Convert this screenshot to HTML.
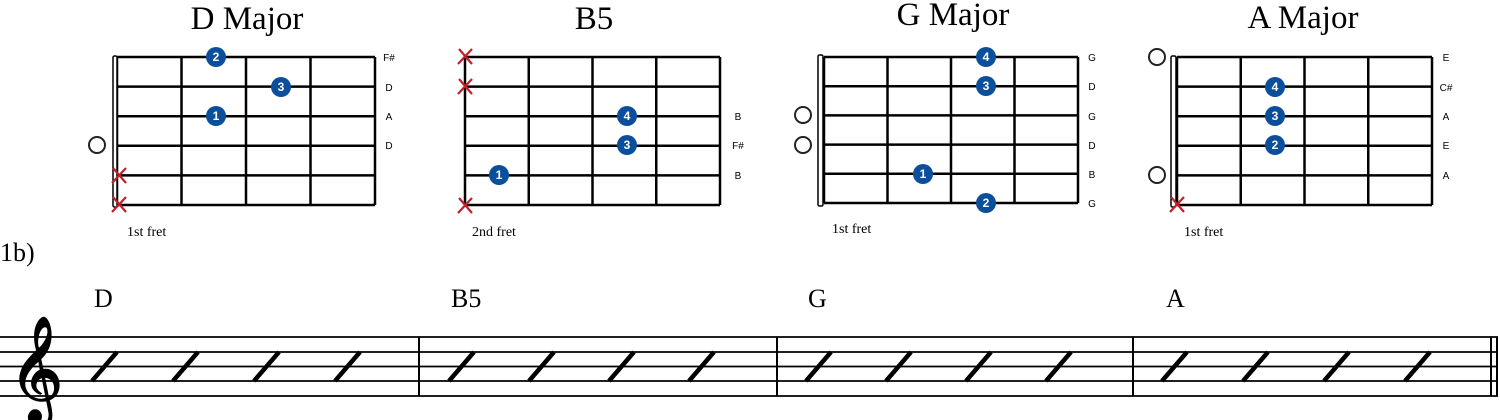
<!DOCTYPE html>
<html><head><meta charset="utf-8"><style>
html,body{margin:0;padding:0;background:#fff;width:1500px;height:420px;overflow:hidden}
svg{display:block}
.t{font-family:"Liberation Serif",serif;fill:#000}
.n{font-family:"Liberation Sans",sans-serif;font-weight:bold;font-size:12px;fill:#fff;text-anchor:middle}
.s{font-family:"Liberation Sans",sans-serif;font-size:10px;fill:#000;text-anchor:middle}
</style></head><body>
<svg width="1500" height="420" viewBox="0 0 1500 420" xmlns="http://www.w3.org/2000/svg">
<g class="t" text-anchor="middle" font-size="33">
<text x="247" y="29">D Major</text>
<text x="594" y="29">B5</text>
<text x="953" y="25">G Major</text>
<text x="1303" y="28">A Major</text>
</g>
<g stroke="#000" stroke-width="2.5" fill="none">
<path d="M117 57H375M117 86.6H375M117 116.2H375M117 145.8H375M117 175.4H375M117 205H375M117 57V205M181.5 57V205M246 57V205M310.5 57V205M375 57V205"/>
<path d="M465 57H720M465 86.6H720M465 116.2H720M465 145.8H720M465 175.4H720M465 205H720M465 57V205M528.75 57V205M592.5 57V205M656.25 57V205M720 57V205"/>
<path d="M824 57H1078M824 86.2H1078M824 115.4H1078M824 144.6H1078M824 173.8H1078M824 203H1078M824 57V203M887.5 57V203M951 57V203M1014.5 57V203M1078 57V203"/>
<path d="M1177 57H1432M1177 86.6H1432M1177 116.2H1432M1177 145.8H1432M1177 175.4H1432M1177 205H1432M1177 57V205M1240.75 57V205M1304.5 57V205M1368.25 57V205M1432 57V205"/>
</g>
<g fill="#fff" stroke="#000" stroke-width="1.5">
<rect x="113" y="56" width="4" height="151" rx="1.5"/>
<rect x="818" y="55" width="5" height="151" rx="1.5"/>
<rect x="1171" y="56" width="5" height="151" rx="1.5"/>
</g>
<g fill="none" stroke="#222" stroke-width="2">
<circle cx="97" cy="145" r="8"/>
<circle cx="803" cy="115" r="8"/>
<circle cx="803" cy="145" r="8"/>
<circle cx="1157" cy="57" r="8"/>
<circle cx="1157" cy="175" r="8"/>
</g>
<g stroke="#c0202a" stroke-width="2.2" fill="none">
<path d="M113 168L126 183M126 168L112 183"/>
<path d="M113 197L126 212M126 197L112 212"/>
<path d="M459 49L472 64M472 49L458 64"/>
<path d="M459 79L472 94M472 79L458 94"/>
<path d="M459 198L472 213M472 198L458 213"/>
<path d="M1171 197L1184 212M1184 197L1170 212"/>
</g>
<g fill="#0b4f9c">
<circle cx="216" cy="57" r="10"/><circle cx="281" cy="87" r="10"/><circle cx="216" cy="116" r="10"/>
<circle cx="627" cy="116" r="10"/><circle cx="627" cy="145" r="10"/><circle cx="499" cy="175" r="10"/>
<circle cx="986" cy="57" r="10"/><circle cx="986" cy="86" r="10"/><circle cx="923" cy="174" r="10"/><circle cx="986" cy="203" r="10"/>
<circle cx="1275" cy="87" r="10"/><circle cx="1275" cy="116" r="10"/><circle cx="1275" cy="145" r="10"/>
</g>
<g class="n">
<text x="216" y="61">2</text><text x="281" y="91">3</text><text x="216" y="120">1</text>
<text x="627" y="120">4</text><text x="627" y="149">3</text><text x="499" y="179">1</text>
<text x="986" y="61">4</text><text x="986" y="90">3</text><text x="923" y="178">1</text><text x="986" y="207">2</text>
<text x="1275" y="91">4</text><text x="1275" y="120">3</text><text x="1275" y="149">2</text>
</g>
<g class="s">
<text x="389" y="61">F#</text><text x="389" y="91">D</text><text x="389" y="120">A</text><text x="389" y="149">D</text>
<text x="738" y="120">B</text><text x="738" y="149">F#</text><text x="738" y="179">B</text>
<text x="1092" y="61">G</text><text x="1092" y="90">D</text><text x="1092" y="120">G</text><text x="1092" y="149">D</text><text x="1092" y="178">B</text><text x="1092" y="207">G</text>
<text x="1446" y="61">E</text><text x="1446" y="91">C#</text><text x="1446" y="120">A</text><text x="1446" y="149">E</text><text x="1446" y="179">A</text>
</g>
<g class="t" font-size="14">
<text x="127" y="236">1st fret</text>
<text x="472" y="236">2nd fret</text>
<text x="832" y="233">1st fret</text>
<text x="1184" y="236">1st fret</text>
</g>
<text class="t" x="0" y="261" font-size="26">1b)</text>
<g class="t" font-size="26">
<text x="94" y="307">D</text><text x="451" y="307">B5</text><text x="808" y="307">G</text><text x="1166" y="307">A</text>
</g>
<g stroke="#000" stroke-width="1.8">
<path d="M0 337H1498M0 352H1498M0 366.5H1498M0 381H1498M0 396H1498"/>
<path d="M419 337V396M777 337V396M1133 337V396M1491 337V396M1497 337V396" stroke-width="2"/>
</g>
<g stroke="#000" stroke-width="4.5" stroke-linecap="butt">
<path d="M92 381L117 352M173 381L198 352M254 381L279 352M335 381L360 352"/>
<path d="M449 381L474 352M529 381L554 352M609 381L634 352M689 381L714 352"/>
<path d="M806 381L831 352M886 381L911 352M966 381L991 352M1046 381L1071 352"/>
<path d="M1162 381L1187 352M1243 381L1268 352M1324 381L1349 352M1405 381L1430 352"/>
</g>
<text x="9" y="400" font-size="92" font-family="DejaVu Sans, sans-serif" fill="#000" stroke="#000" stroke-width="1.5">𝄞</text>
</svg>
</body></html>
